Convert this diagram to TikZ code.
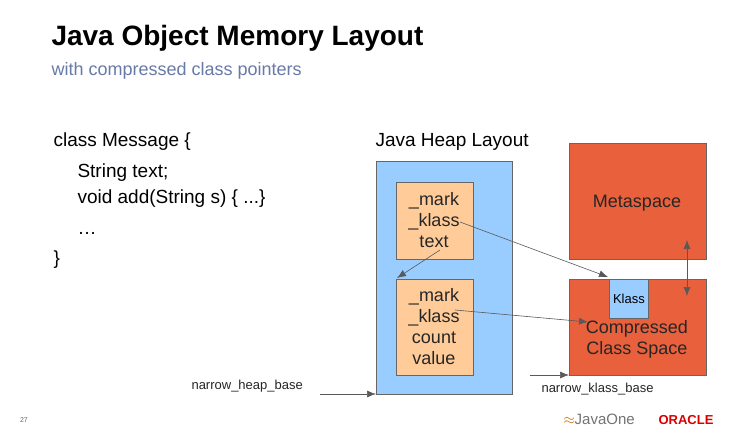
\documentclass[tikz,border=0pt]{standalone}
\usepackage{fontspec}
\usetikzlibrary{arrows.meta}
\setmainfont{Liberation Sans}
\definecolor{heapc}{HTML}{99CCFF}
\definecolor{objc}{HTML}{FFCC99}
\definecolor{metac}{HTML}{E8603C}
\begin{document}
\begin{tikzpicture}[x=1pt,y=-1pt,
  heap/.style={draw=black!60,fill=heapc,line width=0.8pt},
  obj/.style={draw=black!60,fill=objc,line width=0.8pt},
  meta/.style={draw=black!60,fill=metac,line width=0.8pt},
  lbl/.style={font=\fontsize{18}{21}\selectfont,align=center,text=black!85},
  small/.style={font=\fontsize{13}{15}\selectfont,text=black!85},
  arr/.style={-{Latex[length=9pt,width=7pt]},black!65,line width=0.6pt}]
\useasboundingbox (0,0) rectangle (732,439);
\fill[white] (0,0) rectangle (732,439);
\node[anchor=west,font=\bfseries\fontsize{28}{30}\selectfont] (title) at (48,38) {Java Object Memory Layout};
\node[anchor=west,font=\fontsize{18}{20}\selectfont,text=cyan!40!blue!50!gray] (sub) at (48,71) {with compressed class pointers};
\node[anchor=north west,font=\fontsize{19}{31}\selectfont,align=left] (code) at (50,129) {class Message \{\\
\hspace{24pt}String text;\\[-5pt]
\hspace{24pt}void add(String s) \{ ...\}\\
\hspace{24pt}\dots\\[-1pt]
\}};
\node[anchor=west,font=\fontsize{19}{20}\selectfont] (hl) at (372,142) {Java Heap Layout};
\draw[heap] (376,161) rectangle (512,394);
\coordinate (heapbl) at (376,394);
\draw[obj] (396,182) rectangle (473,259);
\node[lbl] (o1) at (434,220) {\_mark\\\_klass\\text};
\draw[obj] (396,279) rectangle (473,375);
\node[lbl] (o2) at (434,327) {\_mark\\\_klass\\count\\value};
\draw[meta] (569,143) rectangle (706,259);
\node[lbl] (ms) at (637,203) {Metaspace};
\draw[meta] (569,279) rectangle (706,375);
\node[lbl] (ccs) at (637,339) {Compressed\\Class Space};
\node[draw=black!60,fill=heapc,line width=0.8pt,minimum width=39pt,minimum height=39pt,anchor=north west,inner sep=0pt] (kl) at (609,279) {};
\node[font=\fontsize{13}{15}\selectfont] at (kl.center) {Klass};
\coordinate (k1) at (460,222);
\coordinate (k2) at (455,310);
\coordinate (t1) at (440,250);
\coordinate (da) at (687,240);
\coordinate (db) at (687,296);
\draw[arr] (k1) -- (608,277);
\draw[arr] (t1) -- (397,278);
\draw[arr] (k2) -- (588,322);
\draw[{Latex[length=9pt,width=7pt]}-{Latex[length=9pt,width=7pt]},black!65,line width=0.6pt] (da) -- (db);
\node[small,anchor=west] (nhb) at (188,386) {narrow\_heap\_base};
\draw[arr] (320,394) -- (heapbl);
\node[small,anchor=west] (nkb) at (538,389) {narrow\_klass\_base};
\coordinate (kb) at (569,375);
\draw[arr] (530,375) -- (kb);
\node[font=\fontsize{7}{8}\selectfont,text=black!60] (pg) at (24,420) {27};
\node[font=\fontsize{15}{16}\selectfont,text=black!55,anchor=west] (j1) at (560,419) {\textcolor{orange!80!black}{$\approx$}JavaOne};
\node[font=\bfseries\fontsize{13}{14}\selectfont,text=red!85!black,anchor=west] (or) at (655,420) {ORACLE};
\end{tikzpicture}
\end{document}
